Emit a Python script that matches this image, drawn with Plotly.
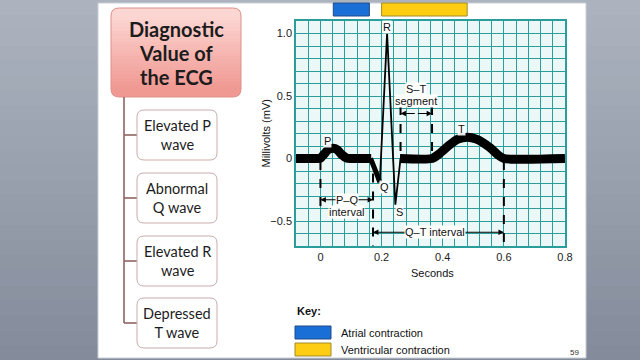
import plotly.graph_objects as go

# ---------------- data ----------------
# thick baseline with P wave (seconds, millivolts)
p_t = [-0.08, -0.01, 0.0, 0.012, 0.025, 0.041, 0.055, 0.07, 0.087, 0.1, 0.166]
p_v = [0.0, 0.0, 0.002, 0.035, 0.07, 0.082, 0.07, 0.03, 0.002, 0.0, 0.0]
# Q descent (tapering)
q_t = [0.164, 0.172, 0.182, 0.194]
q_v = [0.0, -0.04, -0.11, -0.19]
# QRS complex (thin)
qrs_t = [0.194, 0.218, 0.245, 0.262]
qrs_v = [-0.19, 1.0, -0.37, 0.0]
# thick baseline with T wave
t_t = [0.26, 0.365, 0.39, 0.423, 0.45, 0.48, 0.51, 0.553, 0.58, 0.6, 0.8]
t_v = [0.0, 0.0, 0.04, 0.11, 0.155, 0.17, 0.155, 0.09, 0.03, 0.0, 0.0]

wave_labels = ["P", "Q", "R", "S", "T"]
wave_label_t = [0.023, 0.208, 0.218, 0.258, 0.46]
wave_label_v = [0.14, -0.23, 1.05, -0.43, 0.24]

# interval boundaries (s)
pq_start, pq_end = 0.0, 0.172
st_start, st_end = 0.262, 0.365
qt_start, qt_end = 0.172, 0.6

# contraction bars (s)
atrial_bar = [0.042, 0.16]
ventricular_bar = [0.2, 0.48]

x_tickvals = [0, 0.2, 0.4, 0.6, 0.8]
x_ticktext = ["0", "0.2", "0.4", "0.6", "0.8"]
y_tickvals = [-0.5, 0, 0.5, 1.0]
y_ticktext = ["\u22120.5", "0", "0.5", "1.0"]

title_lines = ["Diagnostic", "Value of", "the ECG"]
box_labels = ["Elevated P<br>wave", "Abnormal<br>Q wave", "Elevated R<br>wave", "Depressed<br>T wave"]
key_labels = ["Atrial contraction", "Ventricular contraction"]

# ---------------- layout helpers ----------------
W, H = 640, 360
L, R, T, B = 296, 565, 21, 246

def px(x):
    return (x - L) / (R - L)

def py(y):
    return (B - y) / (B - T)

def rrect(x0, y0, x1, y1, r):
    pts = [
        ("M", [(x0 + r, y0)]), ("L", [(x1 - r, y0)]), ("Q", [(x1, y0), (x1, y0 + r)]),
        ("L", [(x1, y1 - r)]), ("Q", [(x1, y1), (x1 - r, y1)]), ("L", [(x0 + r, y1)]),
        ("Q", [(x0, y1), (x0, y1 - r)]), ("L", [(x0, y0 + r)]), ("Q", [(x0, y0), (x0 + r, y0)]),
    ]
    s = ""
    for cmd, ps in pts:
        s += cmd + " " + " ".join(f"{px(a):.5f},{py(b):.5f}" for a, b in ps) + " "
    return s + "Z"

def mix(c0, c1, f):
    return "rgb(%d,%d,%d)" % tuple(round(c0[k] + (c1[k] - c0[k]) * f) for k in range(3))

TEAL = "#2b9e9c"
FONT = "Liberation Sans, Arial, sans-serif"
SLIDE_FONT = "Lato, Open Sans, sans-serif"

shapes = []
# gray gradient background
n = 24
top_c = (172, 179, 191)
bot_c = (132, 140, 155)
for i in range(n):
    shapes.append(dict(type="rect", xref="paper", yref="paper", layer="below",
                       x0=px(0), x1=px(W), y0=py(i * H / n), y1=py((i + 1) * H / n + 1),
                       fillcolor=mix(top_c, bot_c, i / (n - 1)), line=dict(width=0)))
# white slide
shapes.append(dict(type="rect", xref="paper", yref="paper", layer="below",
                   x0=px(98), x1=px(586), y0=py(3), y1=py(358),
                   fillcolor="white", line=dict(color="#c9ced6", width=1)))
# plot background
shapes.append(dict(type="rect", xref="paper", yref="paper", layer="below",
                   x0=0, x1=1, y0=0, y1=1, fillcolor="#ebf8f7", line=dict(width=0)))

# title box with vertical gradient
bx0, by0, bx1, by1, br = 111, 8, 241, 97, 8
pink_top = (252, 214, 210)
pink_bot = (240, 152, 146)
shapes.append(dict(type="path", xref="paper", yref="paper", layer="below",
                   path=rrect(bx0, by0, bx1, by1, br), fillcolor=mix(pink_top, pink_bot, 1),
                   line=dict(width=0)))
shapes.append(dict(type="path", xref="paper", yref="paper", layer="below",
                   path=rrect(bx0, by0, bx1, by0 + 2 * br + 2, br), fillcolor=mix(pink_top, pink_bot, 0),
                   line=dict(width=0)))
nb = 20
band_h = (by1 - by0 - 2 * br) / nb
for i in range(nb):
    ya = by0 + br + i * band_h
    shapes.append(dict(type="rect", xref="paper", yref="paper", layer="below",
                       x0=px(bx0), x1=px(bx1), y0=py(ya + band_h + 0.6), y1=py(ya),
                       fillcolor=mix(pink_top, pink_bot, (i + 0.5) / nb), line=dict(width=0)))
shapes.append(dict(type="path", xref="paper", yref="paper", layer="below",
                   path=rrect(bx0, by0, bx1, by1, br), fillcolor="rgba(0,0,0,0)",
                   line=dict(color="#de918b", width=1)))

# connector
CON = "#8e6462"
shapes.append(dict(type="line", xref="paper", yref="paper", layer="below",
                   x0=px(124), x1=px(124), y0=py(97), y1=py(323), line=dict(color=CON, width=1.6)))
box_tops = [110, 173, 236, 298]
for i, top in enumerate(box_tops):
    bot = top + 50
    mid = (top + bot) / 2
    shapes.append(dict(type="line", xref="paper", yref="paper", layer="below",
                       x0=px(124), x1=px(137), y0=py(mid), y1=py(mid), line=dict(color=CON, width=1.6)))
    shapes.append(dict(type="path", xref="paper", yref="paper", layer="below",
                       path=rrect(137, top, 217, bot, 7), fillcolor="white",
                       line=dict(color="#c8aeab", width=1)))

# contraction bars above the chart
shapes.append(dict(type="rect", xref="x", yref="paper", x0=atrial_bar[0], x1=atrial_bar[1],
                   y0=py(16), y1=py(3), fillcolor="#1a6fd6", line=dict(color="#214a86", width=1)))
shapes.append(dict(type="rect", xref="x", yref="paper", x0=ventricular_bar[0], x1=ventricular_bar[1],
                   y0=py(16), y1=py(3), fillcolor="#fccd12", line=dict(color="#a08a2c", width=1)))
# key swatches
shapes.append(dict(type="rect", xref="paper", yref="paper", x0=px(295), x1=px(331),
                   y0=py(339), y1=py(326), fillcolor="#1a6fd6", line=dict(color="#214a86", width=1)))
shapes.append(dict(type="rect", xref="paper", yref="paper", x0=px(295), x1=px(331),
                   y0=py(356), y1=py(343), fillcolor="#fccd12", line=dict(color="#a08a2c", width=1)))

# dashed interval lines
dash = dict(color="black", width=2, dash="dash")
shapes += [
    dict(type="line", xref="x", yref="y", x0=pq_start, x1=pq_start, y0=-0.02, y1=-0.4, line=dash),
    dict(type="line", xref="x", yref="y", x0=pq_end, x1=pq_end, y0=-0.12, y1=-0.7, line=dash),
    dict(type="line", xref="x", yref="y", x0=qt_end, x1=qt_end, y0=-0.02, y1=-0.7, line=dash),
    dict(type="line", xref="x", yref="y", x0=st_start, x1=st_start, y0=0.42, y1=0.04, line=dash),
    dict(type="line", xref="x", yref="y", x0=st_end, x1=st_end, y0=0.42, y1=0.04, line=dash),
]

# ---------------- figure ----------------
fig = go.Figure()
fig.add_trace(go.Scatter(x=p_t, y=p_v, mode="lines", line=dict(color="black", width=9, shape="spline", smoothing=0.6)))
fig.add_trace(go.Scatter(x=q_t, y=q_v, mode="lines", line=dict(color="black", width=5)))
fig.add_trace(go.Scatter(x=qrs_t, y=qrs_v, mode="lines", line=dict(color="black", width=1.8)))
fig.add_trace(go.Scatter(x=t_t, y=t_v, mode="lines", line=dict(color="black", width=9, shape="spline", smoothing=0.6)))

ann = []
for lab, x, y in zip(wave_labels, wave_label_t, wave_label_v):
    ann.append(dict(x=x, y=y, xref="x", yref="y", text=lab, showarrow=False,
                    font=dict(family=FONT, size=11, color="#111"), bgcolor="rgba(255,255,255,0.9)", borderpad=0))

def arrow(x_head, x_tail, y):
    return dict(x=x_head, y=y, ax=x_tail, ay=y, xref="x", yref="y", axref="x", ayref="y",
                text="", showarrow=True, arrowhead=2, arrowsize=0.9, arrowwidth=1.2, arrowcolor="black")

pq_mid = (pq_start + pq_end) / 2
qt_mid = 0.375
st_mid = (st_start + st_end) / 2
ann += [arrow(pq_start, pq_mid, -0.33), arrow(pq_end, pq_mid, -0.33),
        arrow(qt_start, qt_mid, -0.59), arrow(qt_end, qt_mid, -0.59),
        arrow(st_start, st_mid, 0.36), arrow(st_end, st_mid, 0.36)]
lbl = dict(font=dict(family=FONT, size=11, color="#111"), bgcolor="white", showarrow=False, xref="x", yref="y", borderpad=0)
ann += [
    dict(x=pq_mid, y=-0.33, text="P\u2013Q", **lbl),
    dict(x=pq_mid, y=-0.43, text="interval", **lbl),
    dict(x=qt_mid, y=-0.59, text="Q\u2013T interval", **lbl),
    dict(x=st_mid, y=0.56, text="S\u2013T", **lbl),
    dict(x=st_mid, y=0.46, text="segment", **lbl),
]

def pann(x, y, text, size=11, family=FONT, color="#111", xanchor="center", **kw):
    return dict(x=px(x), y=py(y), xref="paper", yref="paper", text=text, showarrow=False,
                xanchor=xanchor, yanchor="middle", font=dict(family=family, size=size, color=color), **kw)

# axis titles
ann.append(pann(265, (T + B) / 2, "Millivolts (mV)", textangle=-90))
ann.append(pann(432, 273, "Seconds"))
# key
ann.append(pann(295, 311, "<b>Key:</b>", xanchor="left"))
for lab, yy in zip(key_labels, [333, 350]):
    ann.append(pann(339, yy, lab, xanchor="left"))
ann.append(pann(574, 352, "59", size=8, color="#333"))
# slide diagram text
for line, yy in zip(title_lines, [29, 53, 77]):
    ann.append(pann(176, yy, f"<b>{line}</b>", size=20, family=SLIDE_FONT, color="#1c1c1c"))
for lab, top in zip(box_labels, box_tops):
    ann.append(pann(177, top + 25, lab, size=14.5, family=SLIDE_FONT, color="#1c1c1c"))

fig.update_layout(
    width=W, height=H, margin=dict(l=L, r=W - R, t=T, b=H - B),
    paper_bgcolor="rgb(150,158,172)", plot_bgcolor="rgba(0,0,0,0)",
    showlegend=False, shapes=shapes, annotations=ann,
    xaxis=dict(range=[-0.08, 0.8], tickvals=x_tickvals, ticktext=x_ticktext, showgrid=True,
               gridcolor=TEAL, gridwidth=1.3, zeroline=False, showline=True, mirror=True,
               linecolor=TEAL, linewidth=1.5, ticks="", tickfont=dict(family=FONT, size=11, color="#222"),
               minor=dict(tick0=0, dtick=0.04, showgrid=True, gridcolor=TEAL, gridwidth=1.3)),
    yaxis=dict(range=[-0.7, 1.1], tickvals=y_tickvals, ticktext=y_ticktext, showgrid=True,
               gridcolor=TEAL, gridwidth=1.3, zeroline=False, showline=True, mirror=True,
               linecolor=TEAL, linewidth=1.5, ticks="", tickfont=dict(family=FONT, size=11, color="#222"),
               minor=dict(tick0=0, dtick=0.1, showgrid=True, gridcolor=TEAL, gridwidth=1.3)),
)
fig.write_html("out.html", config={"displayModeBar": False},
               post_script="document.body.style.margin='0';document.body.style.overflow='hidden';")
